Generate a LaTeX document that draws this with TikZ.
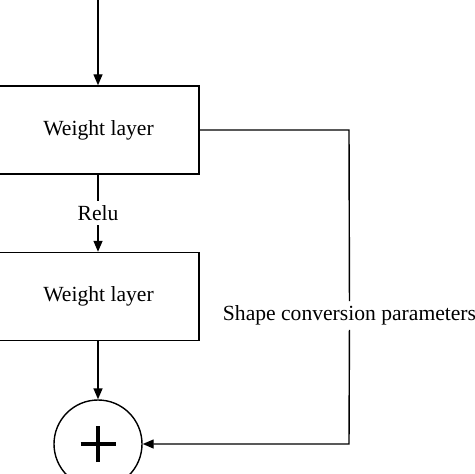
\documentclass[tikz,border=0pt]{standalone}
\usepackage{fontspec}
\setmainfont{Liberation Serif}
\usetikzlibrary{arrows.meta}

\begin{document}
\begin{tikzpicture}[x=0.5pt,y=-0.5pt,
    layer/.style={draw,minimum width=100.5pt,minimum height=44pt,inner sep=0pt},
    lbl/.style={inner sep=2pt},
    arr/.style={-{Triangle[length=5.5pt,width=4.5pt]}},
    font=\fontsize{10.8}{12}\selectfont,line width=0.7pt]
            \useasboundingbox (0,0) rectangle (474,474);
            \clip (0,0) rectangle (474,474);
            \coordinate (in) at (98,-2);
            \node[layer] (w1) at (98.5,130){Weight layer};
            \node[lbl] (relu) at (98,213){Relu};
            \node[layer] (w2) at (98.5,296.5){Weight layer};
            \node[draw,circle,minimum size=44pt,inner sep=0pt] (sum) at (98,444){};
            \draw[line width=2.2pt] ([xshift=-8.75pt]sum.center) -- ([xshift=8.75pt]sum.center);
            \draw[line width=2.2pt] ([yshift=-9pt]sum.center) -- ([yshift=9pt]sum.center);

            \draw[arr] (in) -- (w1.north -| in);
            \draw (w1.south -| in) -- (relu);
            \draw[arr] (relu) -- (w2.north -| in);
            \draw[arr] (w2.south -| in) -- (sum.north -| in);

            % shortcut
            \coordinate (c1) at (349,130);
            \coordinate (c2) at (349,444);
            \node[lbl] (shape) at (349.5,315.5){Shape conversion parameters};
            \draw (w1.east) -- (c1) -- (shape);
            \draw[arr] (shape) -- (c2) -- (sum.east);
\end{tikzpicture}
\end{document}
